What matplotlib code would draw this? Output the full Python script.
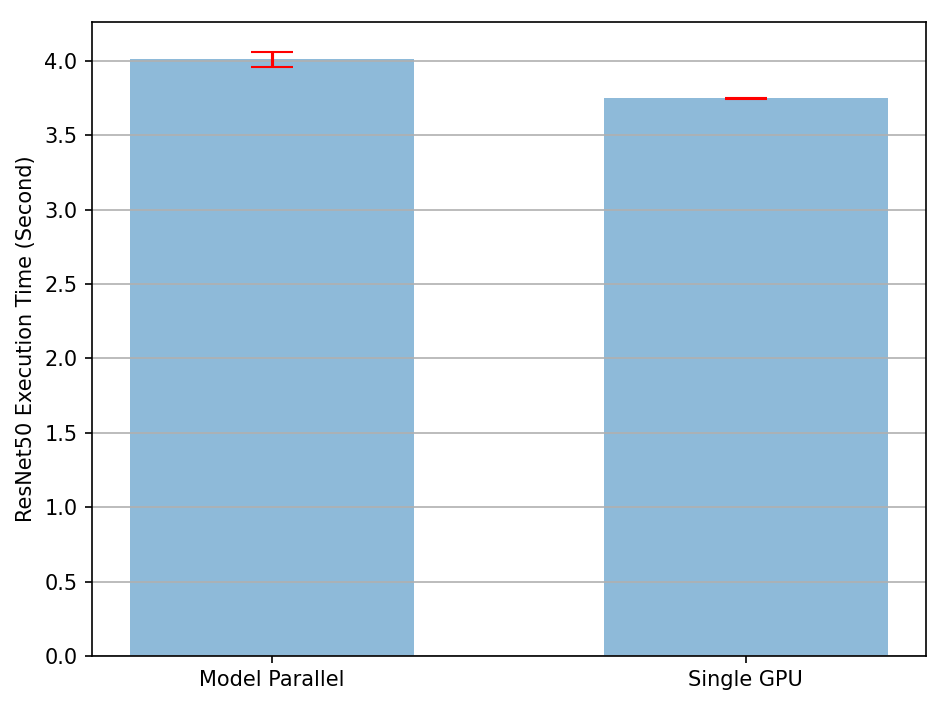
import numpy as np
import matplotlib
matplotlib.use("Agg")
import matplotlib.pyplot as plt

labels = ["Model Parallel", "Single GPU"]
means = [4.01, 3.75]
stds = [0.05, 0.003]

fig = plt.figure(figsize=(951 / 150, 703 / 150), dpi=150)
ax = fig.add_axes([0.0967, 0.067, 0.877, 0.902])
x = np.arange(len(labels))
ax.bar(x, means, 0.6, yerr=stds, alpha=0.5, ecolor="red", capsize=10, align="center")
ax.set_xticks(x)
ax.set_xticklabels(labels)
ax.set_ylabel("ResNet50 Execution Time (Second)")
ax.yaxis.grid(True)
fig.savefig("out.png", dpi=150)
